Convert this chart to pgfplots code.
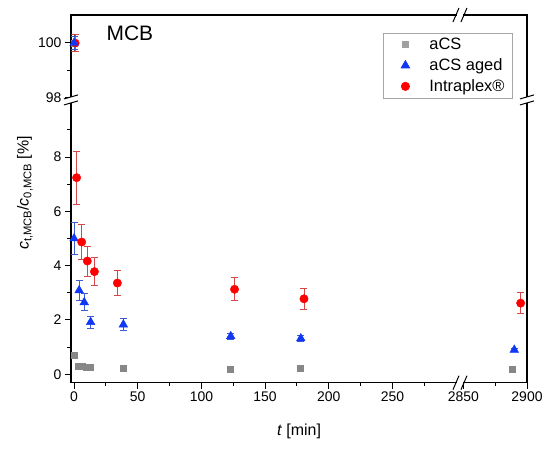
\documentclass[border=0pt]{standalone}
\usepackage{fontspec}
\setmainfont{Liberation Sans}
\usepackage{pgfplots}
\usepackage{pgfplotstable}
\pgfplotsset{compat=1.18}
\definecolor{cgray}{RGB}{135,135,135}
\definecolor{cgrayerr}{RGB}{70,70,70}
\definecolor{clegray}{RGB}{160,160,160}
\definecolor{cblue}{RGB}{15,55,245}
\definecolor{cblueerr}{RGB}{60,90,210}
\definecolor{cred}{RGB}{255,0,0}
\definecolor{crederr}{RGB}{215,70,70}

% time [min], value [%], error
\pgfplotstableread{
x y e
0 0.72 0.10
3.3 0.31 0.06
6.5 0.29 0.05
9.6 0.27 0.05
13 0.27 0.05
38.7 0.23 0.05
122.5 0.20 0.05
177.5 0.21 0.05
2888.5 0.19 0.05
}\aCS
\pgfplotstableread{
x y e
0 5.00 0.58
4 3.09 0.36
8 2.65 0.31
13 1.92 0.22
38.7 1.83 0.21
123 1.40 0.10
178 1.32 0.12
2890 0.90 0.07
}\aCSaged
\pgfplotstableread{
x y e
2 7.24 0.98
6 4.87 0.65
10.4 4.17 0.55
16 3.78 0.51
34 3.36 0.45
126 3.13 0.42
180.5 2.78 0.38
2895 2.62 0.38
}\Intraplex

\begin{document}
\begin{tikzpicture}
\useasboundingbox (-71bp,-66.3bp) rectangle (479bp,382.7bp);
\begin{axis}[
  at={(0,0)}, anchor=south west,
  scale only axis, width=456bp, height=367.7bp,
  xmin=-2.4, xmax=2900, ymin=-0.31, ymax=101.03,
  x coord trafo/.code={\pgfmathparse{#1>1000 ? #1-2544.4 : #1}},
  y coord trafo/.code={\pgfmathparse{#1>50 ? #1-87.8 : #1}},
  xtick={0,50,100,150,200,250,2850,2900},
  xticklabels={0,50,100,150,200,250,2850,2900},
  minor xtick={25,75,125,175,225,275,2875},
  ytick={0,2,4,6,8,98,100},
  yticklabels={0,2,4,6,8,98,100},
  minor ytick={1,3,5,7,9,99},
  xtick pos=bottom, ytick pos=left,
  tick align=outside,
  major tick length=6bp, minor tick length=3.5bp,
  every tick/.style={black, line width=1bp},
  axis line style={line width=1.2bp},
  /pgf/number format/assume math mode=true,
  tick label style={font=\fontsize{14}{16}\selectfont},
  xlabel={\textit{t} [min]},
  ylabel={\textit{c}\textsubscript{t,MCB}/\textit{c}\textsubscript{0,MCB} [\%]},
  label style={font=\fontsize{16}{19}\selectfont},
  xlabel style={at={(axis description cs:0.5,-0.133)}, anchor=center},
  ylabel style={at={(axis description cs:-0.101,0.516)}, anchor=center},
  legend style={at={(rel axis cs:0.969,0.951)}, anchor=north east,
    draw=gray!70, line width=0.6bp, font=\fontsize{16.5}{19}\selectfont,
    inner xsep=6bp, inner ysep=3bp, row sep=3.5bp, column sep=6bp},
  legend cell align=left,
  legend image code/.code={\path[draw=none, fill=none] (0bp,-4bp) rectangle (32bp,4bp);
     \draw[#1, mark repeat=2, mark phase=2]
     plot coordinates {(0bp,0bp) (16bp,0bp) (32bp,0bp)};},
  error bars/y dir=both, error bars/y explicit,
]
% points at 100 %
\addplot[forget plot, only marks, mark=square*, mark size=3bp, color=cgray,
  error bars/.cd, error bar style={cgrayerr, line width=0.8bp},
  error mark options={rotate=90, mark size=3.5bp, cgrayerr, line width=0.8bp}]
  coordinates {(0,100) +- (0,0.3)};
\addplot[forget plot, only marks, mark=*, mark size=4bp, color=cred,
  error bars/.cd, error bar style={crederr, line width=0.8bp},
  error mark options={rotate=90, mark size=3.5bp, crederr, line width=0.8bp}]
  coordinates {(1,100) +- (0,0.3)};
\addplot[forget plot, only marks, mark=triangle*, mark size=5bp, color=cblue,
  error bars/.cd, error bar style={cblueerr, line width=0.8bp},
  error mark options={rotate=90, mark size=3.5bp, cblueerr, line width=0.8bp}]
  coordinates {(0,100) +- (0,0.25)};
% main series
\addplot[forget plot, only marks, mark=square*, mark size=3bp, color=cgray,
  error bars/.cd, error bar style={cgrayerr, line width=0.8bp},
  error mark options={rotate=90, mark size=3.5bp, cgrayerr, line width=0.8bp}]
  table[x=x, y=y, y error=e] {\aCS};
\addplot[forget plot, only marks, mark=triangle*, mark size=5bp, color=cblue,
  error bars/.cd, error bar style={cblueerr, line width=0.8bp},
  error mark options={rotate=90, mark size=3.5bp, cblueerr, line width=0.8bp}]
  table[x=x, y=y, y error=e] {\aCSaged};
\addplot[forget plot, only marks, mark=*, mark size=4.2bp, color=cred,
  error bars/.cd, error bar style={crederr, line width=0.8bp},
  error mark options={rotate=90, mark size=3.5bp, crederr, line width=0.8bp}]
  table[x=x, y=y, y error=e] {\Intraplex};
\addlegendimage{only marks, mark=square*, mark size=3bp, color=clegray}
\addlegendimage{only marks, mark=triangle*, mark size=5bp, color=cblue}
\addlegendimage{only marks, mark=*, mark size=4.2bp, color=cred}
\legend{aCS, aCS aged, Intraplex\textregistered}
\node[font=\fontsize{21}{24}\selectfont] at (rel axis cs:0.129,0.951) {MCB};
\coordinate (bb) at (rel axis cs:0.853,0);
\coordinate (bt) at (rel axis cs:0.853,1);
\coordinate (bl) at (rel axis cs:0,0.769);
\coordinate (br) at (rel axis cs:1,0.769);
\end{axis}
% axis breaks
\foreach \p in {bb,bt}{
  \fill[white] ([xshift=-3bp,yshift=-2bp]\p) rectangle ([xshift=3bp,yshift=2bp]\p);
  \draw[line width=1bp] ([xshift=-7bp,yshift=-7bp]\p) -- ([xshift=-1bp,yshift=7bp]\p)
                        ([xshift=1bp,yshift=-7bp]\p) -- ([xshift=7bp,yshift=7bp]\p);
}
\foreach \p in {bl,br}{
  \fill[white] ([xshift=-2bp,yshift=-3bp]\p) rectangle ([xshift=2bp,yshift=3bp]\p);
  \draw[line width=1bp] ([xshift=-7bp,yshift=-5bp]\p) -- ([xshift=7bp,yshift=-1bp]\p)
                        ([xshift=-7bp,yshift=1bp]\p) -- ([xshift=7bp,yshift=5bp]\p);
}
\end{tikzpicture}
\end{document}
